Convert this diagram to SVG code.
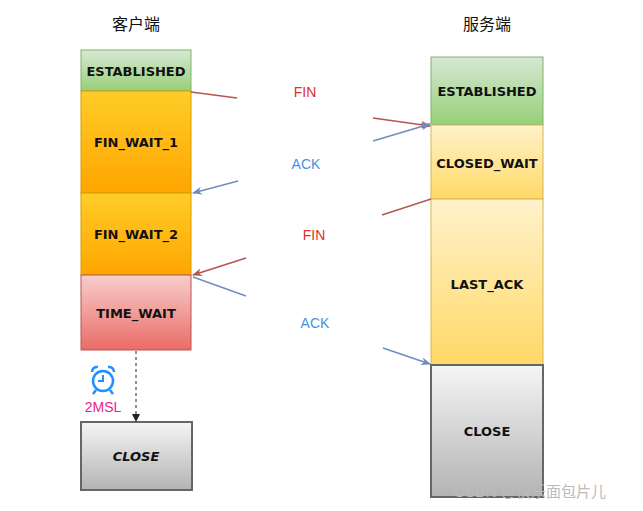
<svg xmlns="http://www.w3.org/2000/svg" width="643" height="511" viewBox="0 0 643 511">
<style>
.t{font-family:"DejaVu Sans",sans-serif;font-size:13px;font-weight:bold;text-anchor:middle;fill:#111}
.h{font-family:"Noto Sans CJK SC",sans-serif;font-size:16px;text-anchor:middle;fill:#111}
.l{font-family:"Liberation Sans",sans-serif;font-size:14px;text-anchor:middle}
.red{stroke:#b85450;stroke-width:1.5;fill:none}
.blue{stroke:#6c8ebf;stroke-width:1.5;fill:none}
</style>
<defs>
<linearGradient id="g" x1="0" y1="0" x2="0" y2="1"><stop offset="0" stop-color="#d5e8d4"/><stop offset="1" stop-color="#97d077"/></linearGradient>
<linearGradient id="o" x1="0" y1="0" x2="0" y2="1"><stop offset="0" stop-color="#ffcd28"/><stop offset="1" stop-color="#ffa500"/></linearGradient>
<linearGradient id="r" x1="0" y1="0" x2="0" y2="1"><stop offset="0" stop-color="#f8cecc"/><stop offset="1" stop-color="#ea6b66"/></linearGradient>
<linearGradient id="y" x1="0" y1="0" x2="0" y2="1"><stop offset="0" stop-color="#fff2cc"/><stop offset="1" stop-color="#ffd966"/></linearGradient>
<linearGradient id="s" x1="0" y1="0" x2="0" y2="1"><stop offset="0" stop-color="#f5f5f5"/><stop offset="1" stop-color="#b3b3b3"/></linearGradient>
<marker id="ar" markerWidth="10" markerHeight="8" refX="9" refY="4" orient="auto" markerUnits="userSpaceOnUse"><path d="M0,0 L10,4 L0,8 L3,4z" fill="#b85450"/></marker>
<marker id="ab" markerWidth="10" markerHeight="8" refX="9" refY="4" orient="auto" markerUnits="userSpaceOnUse"><path d="M0,0 L10,4 L0,8 L3,4z" fill="#6c8ebf"/></marker>
<marker id="ak" markerWidth="8" markerHeight="8" refX="7" refY="4" orient="auto" markerUnits="userSpaceOnUse"><path d="M0,0 L8,4 L0,8z" fill="#222"/></marker>
</defs>
<text class="h" x="136" y="30">客户端</text>
<text class="h" x="487" y="30">服务端</text>
<g id="c-est"><rect x="81" y="50" width="110" height="41" fill="url(#g)" stroke="#82b366"/><text class="t" x="136" y="76">ESTABLISHED</text></g>
<g id="c-fw1"><rect x="81" y="91" width="110" height="102" fill="url(#o)" stroke="#d79b00"/><text class="t" x="136" y="147">FIN_WAIT_1</text></g>
<g id="c-fw2"><rect x="81" y="193" width="110" height="82" fill="url(#o)" stroke="#d79b00"/><text class="t" x="136" y="239">FIN_WAIT_2</text></g>
<g id="c-tw"><rect x="81" y="275" width="110" height="75" fill="url(#r)" stroke="#b85450"/><text class="t" x="136" y="318">TIME_WAIT</text></g>
<g id="c-close"><rect x="81" y="422" width="111" height="68" fill="url(#s)" stroke="#666" stroke-width="2"/><text class="t" x="136" y="461" font-style="italic">CLOSE</text></g>
<g id="s-est"><rect x="431" y="57" width="112" height="68" fill="url(#g)" stroke="#82b366"/><text class="t" x="487" y="96">ESTABLISHED</text></g>
<g id="s-cw"><rect x="431" y="125" width="112" height="74" fill="url(#y)" stroke="#d6b656"/><text class="t" x="487" y="168">CLOSED_WAIT</text></g>
<g id="s-la"><rect x="431" y="199" width="112" height="166" fill="url(#y)" stroke="#d6b656"/><text class="t" x="487" y="289">LAST_ACK</text></g>
<g id="s-close"><rect x="431" y="365" width="112" height="132" fill="url(#s)" stroke="#666" stroke-width="2"/><text class="t" x="487" y="436">CLOSE</text></g>
<g id="timer">
<circle cx="103" cy="381" r="10" fill="none" stroke="#1e90ff" stroke-width="2.5"/>
<path d="M103,375 V381 H98" fill="none" stroke="#1e90ff" stroke-width="2"/>
<path d="M92,372 A5,5 0 0 1 98,367 M108,367 A5,5 0 0 1 114,372 M96,390 L93,394 M110,390 L113,394" fill="none" stroke="#1e90ff" stroke-width="2.5"/>
<text class="l" x="103" y="412" fill="#e91e8c" font-size="13">2MSL</text>
</g>
<g id="connectors">
<line class="red" x1="191" y1="92" x2="237" y2="98"/>
<line class="red" x1="373" y1="118" x2="430" y2="126" marker-end="url(#ar)"/>
<line class="blue" x1="373" y1="141" x2="430" y2="124" marker-end="url(#ab)"/>
<line class="blue" x1="238" y1="181" x2="193" y2="193" marker-end="url(#ab)"/>
<line class="red" x1="382" y1="215" x2="431" y2="199"/>
<line class="red" x1="246" y1="258" x2="193" y2="275" marker-end="url(#ar)"/>
<line class="blue" x1="193" y1="277" x2="246" y2="296"/>
<line class="blue" x1="383" y1="348" x2="430" y2="364" marker-end="url(#ab)"/>
<line x1="136" y1="351" x2="136" y2="421" stroke="#222" stroke-dasharray="3,3" marker-end="url(#ak)"/>
<text class="l" x="305" y="97" fill="#e0302a">FIN</text>
<text class="l" x="306" y="169" fill="#4a90e2">ACK</text>
<text class="l" x="314" y="240" fill="#e0302a">FIN</text>
<text class="l" x="315" y="328" fill="#4a90e2">ACK</text>
</g>
<text x="530" y="497" font-family="Liberation Sans,'Noto Sans CJK SC',sans-serif" font-size="15" fill="#bbb" text-anchor="middle">CSDN @快乐面包片儿</text>
</svg>
